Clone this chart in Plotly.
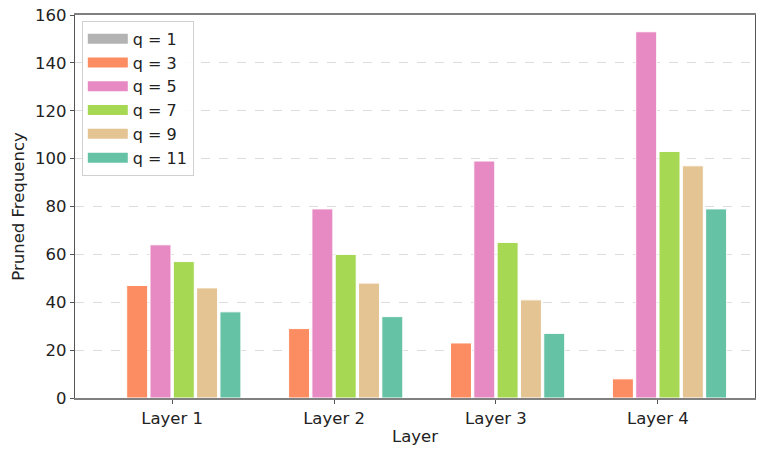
import plotly.graph_objects as go

layers = ["Layer 1", "Layer 2", "Layer 3", "Layer 4"]
q_labels = ["q = 1", "q = 3", "q = 5", "q = 7", "q = 9", "q = 11"]
q1 = [0, 0, 0, 0]
q3 = [47, 29, 23, 8]
q5 = [64, 79, 99, 153]
q7 = [57, 60, 65, 103]
q9 = [46, 48, 41, 97]
q11 = [36, 34, 27, 79]
series = [q1, q3, q5, q7, q9, q11]
colors = ["#b3b3b3", "#fc8d62", "#e78ac3", "#a6d854", "#e5c494", "#66c2a5"]

fig = go.Figure()
for lab, vals, c in zip(q_labels, series, colors):
    fig.add_trace(go.Bar(x=layers, y=vals, name=lab, showlegend=False,
                         marker=dict(color=c, line=dict(color="white", width=1))))
# legend entries drawn as wide colour patches
for lab, c in zip(q_labels, colors):
    fig.add_trace(go.Scatter(x=[None], y=[None], name=lab, mode="lines",
                             line=dict(color=c, width=12), showlegend=True))

font = "DejaVu Sans"
fig.update_layout(
    width=768, height=467,
    margin=dict(l=75, r=13, t=15, b=69),
    paper_bgcolor="white", plot_bgcolor="white",
    barmode="group", bargap=0.136, bargroupgap=0.1,
    font=dict(family=font, size=16.5, color="#222"),
    legend=dict(x=0.01, y=0.985, xanchor="left", yanchor="top",
                bgcolor="rgba(255,255,255,0.85)", bordercolor="#d0d0d0", borderwidth=1,
                font=dict(size=16), tracegroupgap=0, itemwidth=40),
    xaxis=dict(title=dict(text="Layer", font=dict(size=16.5), standoff=4),
               showline=True, linecolor="#808080", linewidth=1.5, mirror=True,
               ticks="outside", ticklen=4, tickcolor="#555",
               range=[-0.6, 3.6], showgrid=False, automargin=False),
    yaxis=dict(title=dict(text="Pruned Frequency", font=dict(size=16.5), standoff=6),
               range=[0, 160], dtick=20,
               showline=True, linecolor="#555", linewidth=1.2, mirror=True,
               ticks="outside", ticklen=4, tickcolor="#555",
               ticklabeloverflow="allow",
               showgrid=True, gridcolor="#dddddd", griddash="dash", gridwidth=1,
               zeroline=False, automargin=False),
)
fig.write_html("out.html", config={"displayModeBar": False},
               post_script="document.body.style.margin='0';document.body.style.overflow='hidden';")
